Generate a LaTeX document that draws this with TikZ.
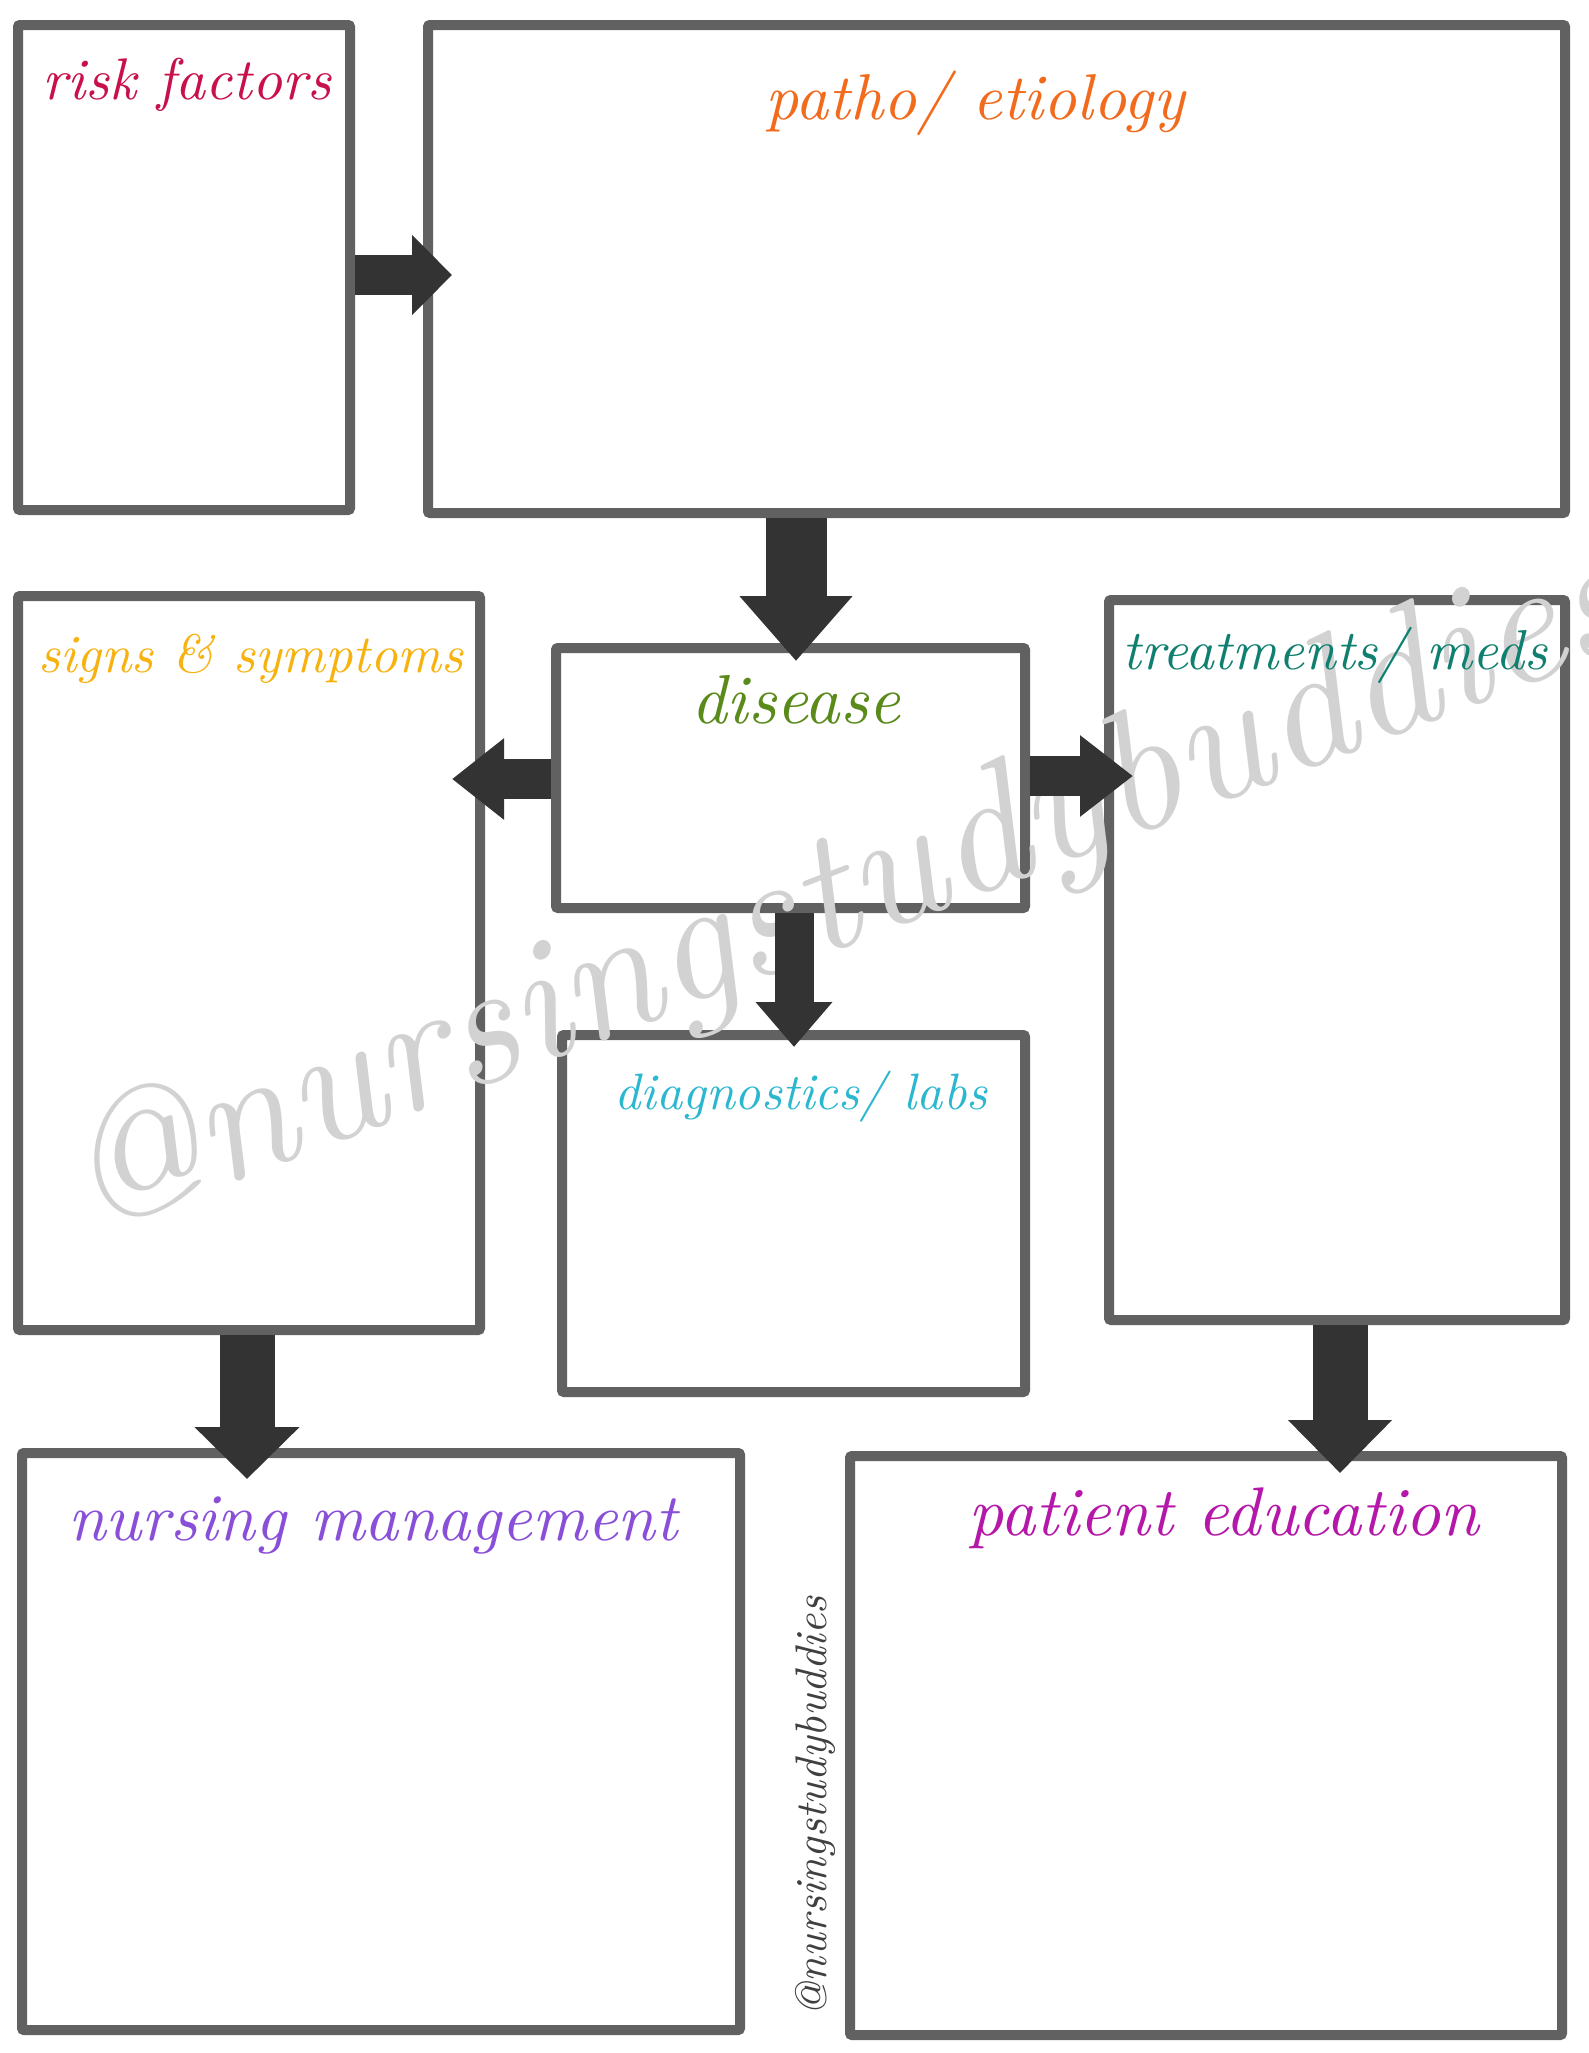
\documentclass[tikz,border=0pt]{standalone}
\usepackage{graphicx}
\usetikzlibrary{arrows.meta,calc}
\definecolor{boxgray}{HTML}{616161}
\definecolor{arrgray}{HTML}{333333}
\definecolor{cRisk}{HTML}{C8104A}
\definecolor{cPatho}{HTML}{F26B1D}
\definecolor{cSigns}{HTML}{F7B20F}
\definecolor{cDis}{HTML}{5A8A1A}
\definecolor{cTreat}{HTML}{0F8070}
\definecolor{cDiag}{HTML}{2BB7D0}
\definecolor{cNurse}{HTML}{8A4FD8}
\definecolor{cPat}{HTML}{B517A8}
\definecolor{wmgray}{HTML}{D2D2D2}
\newcommand\fitw[2]{\resizebox{#1pt}{!}{\itshape #2}}
\begin{document}
\begin{tikzpicture}[x=1pt,y=-1pt,
  box/.style={draw=boxgray, line width=10pt, fill=none, inner sep=0pt, rounded corners=2pt},
  lab/.style={inner sep=0pt, anchor=center},
  barrow/.style n args={3}{draw=arrgray, line width=#1pt, line cap=butt,
     -{Triangle[width=#2pt,length=#3pt]}},
]
\useasboundingbox (0,0) rectangle (1588,2053);
\clip (0,0) rectangle (1588,2053);
\fill[white] (0,0) rectangle (1588,2053);

% boxes
\node[box, minimum width=332pt, minimum height=485pt] (risk) at (184,267.5) {};
\node[box, minimum width=1137pt, minimum height=488pt] (patho) at (996.5,269) {};
\node[box, minimum width=462pt, minimum height=734pt] (signs) at (249,963) {};
\node[box, minimum width=469pt, minimum height=260pt] (dis) at (790.5,778) {};
\node[box, minimum width=456pt, minimum height=720pt] (treat) at (1337,960) {};
\node[box, minimum width=463pt, minimum height=357pt] (diag) at (793.5,1213.5) {};
\node[box, minimum width=718pt, minimum height=577pt] (nurse) at (381,1741.5) {};
\node[box, minimum width=712pt, minimum height=579pt] (pat) at (1206,1745.5) {};

% watermark (large)
\node[lab, rotate=21, text=wmgray] (wm) at (850,898) {\fitw{1660}{@nursingstudybuddies}};

% labels
\node[lab, text=cRisk] (lrisk) at (187,85) {\fitw{288}{risk factors}};
\node[lab, text=cPatho] (lpatho) at (975,103) {\fitw{419}{patho/ etiology}};
\node[lab, text=cSigns] (lsigns) at (251,659) {\fitw{425}{signs \& symptoms}};
\node[lab, text=cDis] (ldis) at (796,700) {\fitw{209}{disease}};
\node[lab, text=cTreat] (ltreat) at (1335,655) {\fitw{425}{treatments/ meds}};
\node[lab, text=cDiag] (ldiag) at (801,1097) {\fitw{373}{diagnostics/ labs}};
\node[lab, text=cNurse] (lnurse) at (373,1525) {\fitw{609}{nursing management}};
\node[lab, text=cPat] (lpat) at (1224,1518) {\fitw{510}{patient education}};

% small vertical watermark
\node[lab, rotate=90, text=black!75] (wm2) at (815,1806) {\fitw{420}{@nursingstudybuddies}};

% arrow tips
\coordinate (t1) at (452,275);
\coordinate (t2) at (796,661);
\coordinate (t3) at (452,779);
\coordinate (t4) at (1133,776);
\coordinate (t5) at (794,1047);
\coordinate (t6) at (247,1479);
\coordinate (t7) at (1340,1473);

% arrows
\draw[barrow={40}{78}{40}] (risk.east |- t1) -- (t1);
\draw[barrow={61}{109}{65}] (t2 |- patho.south) -- (t2);
\draw[barrow={40}{78}{52}] (dis.west |- t3) -- (t3);
\draw[barrow={40}{78}{53}] (dis.east |- t4) -- (t4);
\draw[barrow={39}{74}{45}] (t5 |- dis.south) -- (t5);
\draw[barrow={55}{102}{52}] (t6 |- signs.south) -- (t6);
\draw[barrow={55}{101}{53}] (t7 |- treat.south) -- (t7);
\end{tikzpicture}
\end{document}
